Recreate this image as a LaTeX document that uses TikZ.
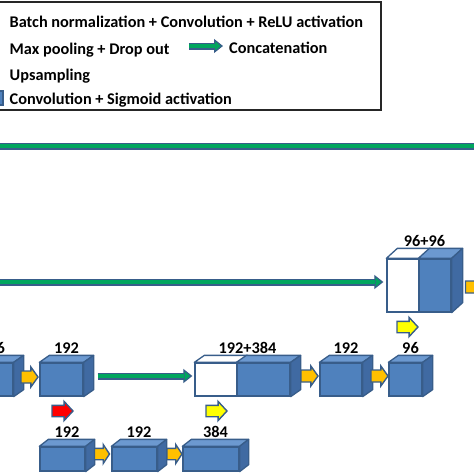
\documentclass[tikz,border=0pt]{standalone}
\usepackage{fontspec}
\setmainfont{Carlito}
\usetikzlibrary{positioning,calc,arrows.meta}

\definecolor{blockblue}{RGB}{79,129,189}
\definecolor{topblue}{RGB}{108,153,208}
\definecolor{sideblue}{RGB}{64,106,162}
\definecolor{edgeblue}{RGB}{56,93,138}
\definecolor{concatgreen}{RGB}{0,166,94}
\definecolor{poolorange}{RGB}{255,192,0}
\definecolor{upyellow}{RGB}{255,255,0}
\definecolor{dropred}{RGB}{255,0,0}

\tikzset{
  front/.style={draw=edgeblue, fill=blockblue, line width=1.3pt, inner sep=0pt},
  catfront/.style={front, fill=white},
  face/.style={draw=edgeblue, line width=1.3pt, line join=round},
  lbl/.style={font=\fontsize{16.3}{18}\selectfont\bfseries, inner sep=0pt, anchor=south},
  legtext/.style={font=\fontsize{16.3}{18}\selectfont\bfseries, inner sep=0pt, anchor=base west},
  arrowface/.style={draw=edgeblue, line width=1.4pt, line join=miter},
  concat/.style={line width=7pt, draw=edgeblue,
    -{Triangle[length=9pt 0, width=14pt 0, line width=1.2pt, fill=concatgreen]},
    postaction={draw=concatgreen, line width=4.4pt, -, shorten >=8pt}},
}

% top and side faces of a block
\newcommand{\cubetop}[3]{\filldraw[face, fill=#2] (#1.north west) -- ++#3 -- ([shift={#3}]#1.north east) -- (#1.north east) -- cycle;}
\newcommand{\cubeside}[2]{\filldraw[face, fill=sideblue] (#1.north east) -- ++#2 -- ([shift={#2}]#1.south east) -- (#1.south east) -- cycle;}
% block arrow: name, position, fill, length, head width
\newcommand{\blockarrow}[5]{%
  \coordinate (#1) at #2;
  \pgfmathsetmacro{\ha}{#4/2}\pgfmathsetmacro{\hk}{#4/2-0.42*#4}%
  \pgfmathsetmacro{\hh}{#5/2}\pgfmathsetmacro{\hs}{0.3*#5}%
  \filldraw[arrowface, fill=#3] ([shift={(-\ha,-\hs)}]#1) -- ([shift={(\hk,-\hs)}]#1)
    -- ([shift={(\hk,-\hh)}]#1) -- ([shift={(\ha,0)}]#1) -- ([shift={(\hk,\hh)}]#1)
    -- ([shift={(\hk,\hs)}]#1) -- ([shift={(-\ha,\hs)}]#1) -- cycle;}

\begin{document}
\begin{tikzpicture}[x=1pt, y=-1pt]
  \useasboundingbox (0,0) rectangle (474,474);

  % Legend
  \draw[line width=2pt, draw=black!85] (-6,1.5) rectangle (381,110);
  \node[legtext] (leg1) at (9.5,27.5) {Batch normalization + Convolution + ReLU activation};
  \node[legtext] (leg2) at (9.5,54) {Max pooling + Drop out};
  \node[legtext] (leg3) at (9.5,80) {Upsampling};
  \node[legtext] (leg4) at (9.5,104) {Convolution + Sigmoid activation};
  \node[legtext] (leg5) at (229,53.5) {Concatenation};
  \node[front, minimum width=14pt, minimum height=14pt] (sig) at (-4,98) {};
  \coordinate (lgA) at (189,46);
  \draw[concat] (lgA) -- ([shift={(-6,-7.5)}]leg5.base west);

  % Skip connections
  \coordinate (skA) at (-10,146);
  \coordinate (skB) at (492,146);
  \draw[concat] (skA) -- (skB);

  % Top decoder level
  \node[catfront, minimum width=32pt, minimum height=53pt] (t1w) at (403,285.5) {};
  \node[front, minimum width=32pt, minimum height=53pt] (t1b) at (435,285.5) {};
  \cubetop{t1w}{white}{(11,-10)}
  \cubetop{t1b}{topblue}{(11,-10)}
  \cubeside{t1b}{(11,-10)}
  \node[lbl] at ($(t1w.north west)!.5!(t1b.north east)+(5.5,-12)$) {96+96};
  \coordinate (skC) at (-10,282);
  \draw[concat] (skC) -- ([shift={(-3,-3.5)}]t1w.west);
  \blockarrow{a7}{(474,287)}{poolorange}{17}{20}

  % Middle level
  \node[front, minimum width=43pt, minimum height=33pt] (m1) at (-8.5,379.5) {};
  \node[front, minimum width=43pt, minimum height=33pt] (m2) at (61.5,379.5) {};
  \node[catfront, minimum width=42pt, minimum height=33pt] (m3w) at (216,379.5) {};
  \node[front, minimum width=53pt, minimum height=33pt] (m3b) at (263.5,379.5) {};
  \node[front, minimum width=42pt, minimum height=33pt] (m4) at (341,379.5) {};
  \node[front, minimum width=33pt, minimum height=33pt] (m5) at (405.5,379.5) {};
  \foreach \b in {m1,m2,m4,m5}{
    \cubetop{\b}{topblue}{(10,-7)}
    \cubeside{\b}{(10,-7)}
  }
  \cubetop{m3w}{white}{(10,-7)}
  \cubetop{m3b}{topblue}{(10,-7)}
  \cubeside{m3b}{(10,-7)}
  \node[lbl] at ([shift={(5,-8.5)}]m1.north) {96};
  \node[lbl] at ([shift={(5,-8.5)}]m2.north) {192};
  \node[lbl] at ($(m3w.north west)!.5!(m3b.north east)+(5,-8.5)$) {192+384};
  \node[lbl] at ([shift={(5,-8.5)}]m4.north) {192};
  \node[lbl] at ([shift={(5,-8.5)}]m5.north) {96};
  \blockarrow{a1}{(29.5,377)}{poolorange}{17}{20}
  \blockarrow{a2}{(309.5,376)}{poolorange}{17}{20}
  \blockarrow{a3}{(379.5,376)}{poolorange}{17}{20}
  \draw[concat] ([shift={(14,-3.5)}]m2.east) -- ([shift={(-2,-3.5)}]m3w.west);
  \blockarrow{p1}{(62.5,411)}{dropred}{21}{19}
  \blockarrow{u1}{(216.5,411)}{upyellow}{21}{19}
  \blockarrow{u2}{(407.5,327)}{upyellow}{21}{19}

  % Bottom level
  \node[front, minimum width=45pt, minimum height=24pt] (b1) at (62.5,459) {};
  \node[front, minimum width=45pt, minimum height=24pt] (b2) at (134.5,459) {};
  \node[front, minimum width=56pt, minimum height=24pt] (b3) at (211,459) {};
  \foreach \b in {b1,b2,b3}{
    \cubetop{\b}{topblue}{(9,-7)}
    \cubeside{\b}{(9,-7)}
  }
  \node[lbl] at ([shift={(4.5,-9)}]b1.north) {192};
  \node[lbl] at ([shift={(4.5,-9)}]b2.north) {192};
  \node[lbl] at ([shift={(4.5,-9)}]b3.north) {384};
  \blockarrow{a4}{(102,454)}{poolorange}{15}{19}
  \blockarrow{a5}{(174.5,454)}{poolorange}{15}{19}
\end{tikzpicture}
\end{document}
